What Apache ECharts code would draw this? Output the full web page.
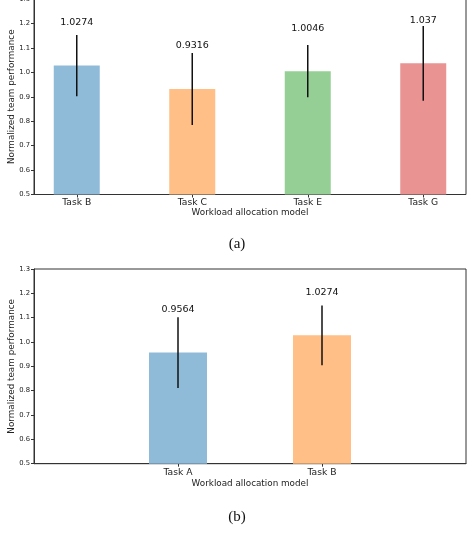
<!DOCTYPE html>
<html>
<head>
<meta charset="utf-8">
<script src="https://cdn.jsdelivr.net/npm/echarts@6/dist/echarts.min.js"></script>
<style>
  html, body { margin: 0; padding: 0; background: #fff; }
  #main { width: 474px; height: 538px; }
</style>
</head>
<body>
<div id="main"></div>
<script>
// (a) four tasks
const tasksA = ['Task B', 'Task C', 'Task E', 'Task G'];
const perfA = [1.0274, 0.9316, 1.0046, 1.037];
const errA = [0.125, 0.147, 0.107, 0.153];
const colorsA = ['#8fbbd9', '#ffbf86', '#95cf95', '#ea9393'];

// (b) two tasks, padded with empty slots so xlim runs -1..2
const tasksB = ['', 'Task A', 'Task B', ''];
const perfB = [null, 0.9564, 1.0274, null];
const errB = [null, 0.145, 0.123, null];
const colorsB = ['#8fbbd9', '#8fbbd9', '#ffbf86', '#8fbbd9'];

const yTicks = { min: 0.5, max: 1.3, interval: 0.1 };

const font = 'DejaVu Sans';
const frameColor = '#333';

const chart = echarts.init(document.getElementById('main'), null, { renderer: 'canvas' });

const yVisible = (gridIndex) => ({
  type: 'value',
  gridIndex: gridIndex,
  min: yTicks.min, max: yTicks.max, interval: yTicks.interval,
  name: 'Normalized team performance',
  nameLocation: 'middle',
  nameGap: 18,
  nameMoveOverlap: false,
  nameTextStyle: { fontFamily: font, fontSize: 8.8, color: '#222' },
  axisLine: { show: true, lineStyle: { color: frameColor, width: 1 } },
  axisTick: { show: true, length: 3, lineStyle: { color: frameColor } },
  axisLabel: { fontFamily: font, fontSize: 6.8, color: '#222', margin: 4,
    formatter: v => v.toFixed(1) },
  splitLine: { show: false }
});

const yHidden = (gridIndex) => ({
  type: 'value', gridIndex: gridIndex, show: false,
  min: yTicks.min, max: yTicks.max, interval: yTicks.interval,
  splitLine: { show: false }
});

const xName = {
  name: 'Workload allocation model',
  nameLocation: 'middle',
  nameMoveOverlap: false,
  nameTextStyle: { fontFamily: font, fontSize: 8.8, color: '#222' }
};

const errorBars = (xIdx, yIdx, vals, errs) => ({
  type: 'custom',
  xAxisIndex: xIdx, yAxisIndex: yIdx,
  z: 5,
  data: vals.map((v, i) => v == null ? [i, null, null] : [i, v - errs[i], v + errs[i]]),
  encode: { x: 0, y: [1, 2] },
  renderItem: (params, api) => {
    if (api.value(1) == null || isNaN(api.value(1))) return;
    const lo = api.coord([api.value(0), api.value(1)]);
    const hi = api.coord([api.value(0), api.value(2)]);
    return {
      type: 'line',
      shape: { x1: lo[0], y1: lo[1], x2: hi[0], y2: hi[1] },
      style: { stroke: '#111', lineWidth: 1.5 }
    };
  }
});

const barLabel = {
  show: true, position: 'top', distance: 38,
  fontFamily: font, fontSize: 9.5, color: '#111'
};

const option = {
  animation: false,
  backgroundColor: '#fff',
  grid: [
    // (a) frame
    { left: 34, top: -1, width: 432, height: 195.5, show: true, borderColor: frameColor, borderWidth: 1,
      containLabel: false, outerBoundsMode: 'none' },
    // (a) data: band spacing matches xlim -0.37..3.37
    { left: 19, top: -1, width: 462, height: 195.5, containLabel: false, outerBoundsMode: 'none' },
    // (b)
    { left: 34, top: 269, width: 432, height: 194.7, show: true, borderColor: frameColor, borderWidth: 1,
      containLabel: false, outerBoundsMode: 'none' }
  ],
  xAxis: [
    { type: 'value', gridIndex: 0, show: false },
    Object.assign({
      type: 'category', gridIndex: 1, data: tasksA,
      nameGap: 14,
      axisLine: { show: false },
      axisTick: { show: true, alignWithLabel: true, length: 3, lineStyle: { color: frameColor } },
      axisLabel: { fontFamily: font, fontSize: 9.2, color: '#222', margin: 4 }
    }, xName),
    Object.assign({
      type: 'category', gridIndex: 2, data: tasksB, boundaryGap: false,
      nameGap: 16,
      axisLine: { show: true, lineStyle: { color: frameColor } },
      axisTick: { show: true, length: 3, lineStyle: { color: frameColor },
        interval: (i, v) => v !== '' },
      axisLabel: { fontFamily: font, fontSize: 9.2, color: '#222', margin: 4, interval: 0 }
    }, xName)
  ],
  yAxis: [yVisible(0), yHidden(1), yVisible(2)],
  series: [
    {
      type: 'bar', xAxisIndex: 1, yAxisIndex: 1,
      barWidth: 46,
      data: perfA.map((v, i) => ({ value: v, itemStyle: { color: colorsA[i] } })),
      label: barLabel
    },
    errorBars(1, 1, perfA, errA),
    {
      type: 'bar', xAxisIndex: 2, yAxisIndex: 2,
      barWidth: 58,
      data: perfB.map((v, i) => ({ value: v, itemStyle: { color: colorsB[i] } })),
      label: barLabel
    },
    errorBars(2, 2, perfB, errB)
  ],
  graphic: [
    { type: 'text', left: 'center', top: 237, style: { text: '(a)', fontFamily: 'Liberation Serif', fontSize: 15, fill: '#111' } },
    { type: 'text', left: 'center', top: 510, style: { text: '(b)', fontFamily: 'Liberation Serif', fontSize: 15, fill: '#111' } }
  ]
};

chart.setOption(option);
</script>
</body>
</html>
